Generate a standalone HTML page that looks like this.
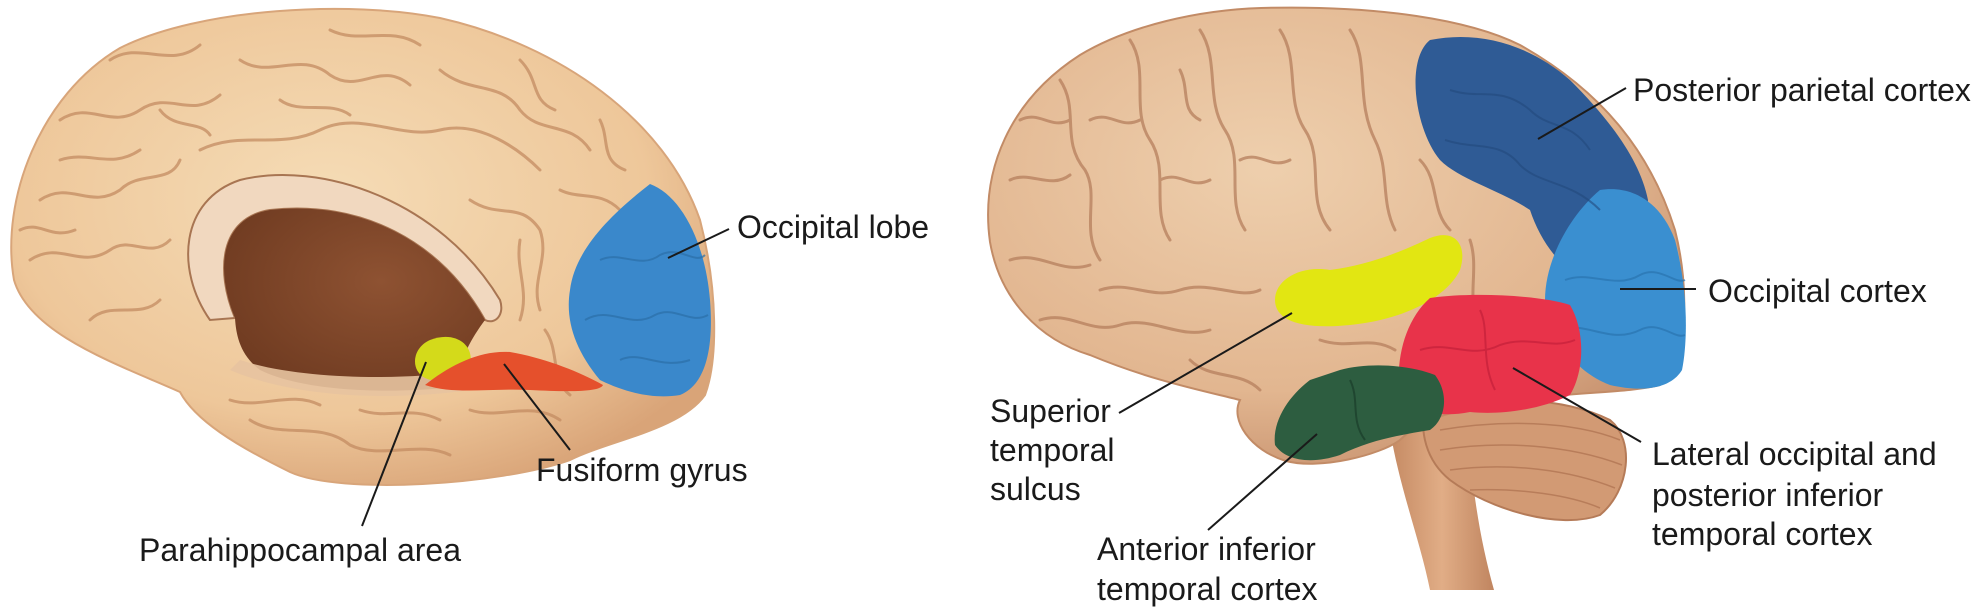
<!DOCTYPE html>
<html><head><meta charset="utf-8"><style>
html,body{margin:0;padding:0;background:#fff;}
svg{display:block}
text{font-family:"Liberation Sans",sans-serif;font-size:32px;fill:#1a1a1a;}
</style></head><body>
<svg width="1973" height="612" viewBox="0 0 1973 612" xmlns="http://www.w3.org/2000/svg">
<defs>
<radialGradient id="tan" cx="45%" cy="40%" r="65%">
<stop offset="0" stop-color="#f5dcb6"/><stop offset="0.7" stop-color="#eec79a"/><stop offset="1" stop-color="#d9a478"/>
</radialGradient>
<radialGradient id="tan2" cx="40%" cy="35%" r="70%">
<stop offset="0" stop-color="#eecfad"/><stop offset="0.7" stop-color="#e2b690"/><stop offset="1" stop-color="#c99471"/>
</radialGradient>
<radialGradient id="cav" cx="60%" cy="40%" r="70%">
<stop offset="0" stop-color="#8e5232"/><stop offset="1" stop-color="#6e3a20"/>
</radialGradient>
<linearGradient id="stem" x1="0" x2="1"><stop offset="0" stop-color="#c58a63"/><stop offset="0.5" stop-color="#e1ad86"/><stop offset="1" stop-color="#c08560"/></linearGradient>
</defs>

<!-- LEFT BRAIN -->
<path d="M180,392 C120,365 30,335 14,280 C0,200 40,95 120,48 C200,8 350,0 440,18 C560,45 665,120 700,220 C718,290 718,360 705,395 C680,430 610,440 570,460 C500,485 340,495 290,472 C235,445 195,420 180,392 Z" fill="url(#tan)" stroke="#d8a57a" stroke-width="2"/>
<g fill="none" stroke="#c48c62" stroke-width="3" stroke-linecap="round" opacity="0.75">
<path d="M60,120 C90,100 110,130 140,110 C170,90 190,120 220,95"/>
<path d="M240,60 C270,80 300,50 330,75 C360,95 380,60 410,85"/>
<path d="M440,70 C470,95 500,80 520,110 C540,135 570,120 590,150"/>
<path d="M40,200 C70,180 90,210 120,190 C140,170 170,185 180,160"/>
<path d="M200,150 C240,130 280,150 320,130 C360,110 400,140 440,130 C480,120 520,150 540,170"/>
<path d="M30,260 C60,240 80,270 110,250 C130,235 150,260 170,240"/>
<path d="M90,320 C110,300 140,320 160,300"/>
<path d="M470,200 C500,220 520,200 540,230 C550,260 530,280 540,310"/>
<path d="M110,60 C140,40 170,70 200,45"/>
<path d="M330,30 C360,45 390,25 420,45"/>
<path d="M60,160 C90,150 110,170 140,150"/>
<path d="M560,190 C580,200 600,190 620,210"/>
<path d="M250,420 C280,440 320,420 350,445 C380,460 420,440 450,455"/>
<path d="M230,400 C260,410 290,390 320,405"/>
<path d="M470,410 C500,420 530,400 560,420"/>
<path d="M160,110 C175,130 200,120 210,135"/>
<path d="M280,100 C300,115 330,100 350,115"/>
<path d="M520,60 C540,80 530,100 555,110"/>
<path d="M600,120 C610,140 600,160 625,170"/>
<path d="M20,230 C40,220 50,240 75,230"/>
<path d="M520,240 C515,270 530,290 520,320"/>
<path d="M545,330 C560,350 550,380 570,395"/>
<path d="M360,410 C390,420 410,405 440,420"/>
</g>
<!-- corpus callosum -->
<path d="M210,320 C175,270 180,200 240,180 C320,160 440,200 500,300 C505,315 495,325 485,320 C440,240 360,200 270,210 C220,218 215,270 235,318 Z" fill="#f1d8bf" stroke="#a87552" stroke-width="2"/>
<path d="M235,318 C215,270 220,218 270,210 C360,200 440,240 485,320 C470,340 460,360 454,387 C380,395 300,390 260,370 C240,355 236,335 235,318 Z" fill="url(#cav)"/>
<path d="M230,370 C300,400 400,400 470,390 C480,380 470,370 460,372 C400,380 300,380 240,360 Z" fill="#e7c3a0" opacity="0.9"/>
<!-- occipital blue -->
<path d="M650,184 C680,195 705,240 710,300 C714,350 705,385 680,395 C650,400 620,390 600,380 C575,350 565,320 570,290 C575,250 610,215 650,184 Z" fill="#3a88cb"/>
<g fill="none" stroke="#2b6fa8" stroke-width="2" opacity="0.7">
<path d="M600,260 C620,250 640,270 660,255 C680,245 695,265 705,255"/>
<path d="M585,320 C610,305 630,330 655,315 C675,305 690,325 708,315"/>
<path d="M620,360 C640,350 660,370 690,360"/>
</g>
<!-- yellow & orange -->
<path d="M430,340 C455,330 475,345 470,365 C462,380 440,385 425,378 C410,370 412,348 430,340 Z" fill="#d4da1a"/>
<path d="M425,385 C450,365 480,350 510,352 C545,358 580,372 603,385 C600,392 570,392 530,390 C490,388 455,395 425,385 Z" fill="#e5502c"/>

<!-- RIGHT BRAIN -->
<path d="M1390,430 C1400,490 1420,540 1430,590 L1494,590 C1480,540 1470,480 1470,430 Z" fill="url(#stem)"/>
<path d="M1425,410 C1480,395 1560,395 1610,420 C1635,440 1630,490 1600,515 C1560,530 1490,510 1450,480 C1425,460 1420,430 1425,410 Z" fill="#d29a74" stroke="#b57b58" stroke-width="2"/>
<g fill="none" stroke="#b27654" stroke-width="1.5" opacity="0.8">
<path d="M1440,430 C1500,420 1570,420 1620,440"/>
<path d="M1440,450 C1500,440 1570,445 1622,465"/>
<path d="M1450,470 C1510,462 1570,470 1615,488"/>
<path d="M1470,490 C1520,488 1570,495 1600,508"/>
</g>
<path d="M1261,8 C1380,5 1470,20 1520,45 C1600,90 1650,150 1675,230 C1690,290 1688,360 1660,385 C1620,395 1560,390 1500,405 C1450,410 1420,420 1400,440 C1380,455 1320,470 1286,461 C1250,450 1230,420 1240,400 C1200,390 1150,380 1090,355 C1040,340 1000,300 990,242 C980,170 1010,100 1080,55 C1130,25 1200,10 1261,8 Z" fill="url(#tan2)" stroke="#c28b66" stroke-width="2"/>
<g fill="none" stroke="#b67f5d" stroke-width="3" stroke-linecap="round" opacity="0.75">
<path d="M1060,80 C1080,110 1060,140 1085,170 C1100,195 1080,230 1100,260"/>
<path d="M1130,40 C1150,70 1130,110 1150,140 C1170,170 1150,210 1170,240"/>
<path d="M1200,30 C1220,60 1205,100 1225,130 C1245,160 1225,200 1245,230"/>
<path d="M1280,30 C1300,60 1285,100 1305,130 C1325,160 1305,200 1330,230"/>
<path d="M1350,30 C1370,60 1355,100 1375,140 C1390,170 1380,200 1395,230"/>
<path d="M1010,180 C1030,170 1050,190 1070,175"/>
<path d="M1010,260 C1040,250 1060,275 1090,265"/>
<path d="M1040,320 C1070,310 1090,335 1120,325 C1150,315 1180,340 1210,330"/>
<path d="M1100,290 C1130,280 1150,300 1180,290 C1210,280 1240,300 1260,290"/>
<path d="M1190,360 C1210,380 1240,370 1260,390"/>
<path d="M1320,340 C1350,350 1370,335 1395,350"/>
<path d="M1470,240 C1480,270 1465,300 1480,330 C1490,350 1480,370 1495,385"/>
<path d="M1420,160 C1440,180 1430,210 1450,230"/>
<path d="M1090,120 C1110,110 1120,130 1140,120"/>
<path d="M1160,180 C1180,170 1190,190 1210,180"/>
<path d="M1240,160 C1260,150 1270,170 1290,160"/>
<path d="M1020,120 C1040,110 1050,130 1070,120"/>
<path d="M1180,70 C1190,90 1180,110 1200,120"/>
</g>
<!-- dark blue parietal -->
<path d="M1430,40 C1480,30 1530,45 1570,80 C1610,120 1640,160 1648,200 C1645,240 1615,270 1590,282 C1560,270 1540,240 1530,210 C1500,190 1460,180 1440,160 C1415,130 1405,60 1430,40 Z" fill="#2f5b95"/>
<path d="M1600,190 C1630,185 1660,200 1675,240 C1688,290 1688,340 1682,370 C1670,390 1640,392 1610,385 C1570,370 1548,330 1545,300 C1545,260 1570,215 1600,190 Z" fill="#3a8fd0"/>
<g fill="none" stroke="#234a7d" stroke-width="2" opacity="0.6">
<path d="M1450,90 C1480,100 1500,85 1530,110 C1550,130 1570,120 1590,150"/>
<path d="M1445,140 C1475,150 1500,140 1520,165 C1540,185 1570,180 1600,210"/>
</g>
<g fill="none" stroke="#2a74b0" stroke-width="2" opacity="0.7">
<path d="M1565,280 C1590,270 1615,290 1640,275 C1660,265 1675,285 1685,280"/>
<path d="M1560,330 C1585,320 1610,345 1640,330 C1660,320 1675,340 1685,335"/>
</g>
<path d="M1430,238 C1455,228 1468,245 1460,270 C1445,300 1400,320 1350,325 C1300,330 1275,320 1275,300 C1275,280 1300,265 1330,270 C1370,265 1405,250 1430,238 Z" fill="#e2e612"/>
<path d="M1430,298 C1470,292 1540,295 1570,305 C1585,330 1585,370 1570,395 C1540,410 1500,415 1470,412 C1440,418 1410,412 1400,395 C1395,360 1405,320 1430,298 Z" fill="#e8334a"/>
<g fill="none" stroke="#c4203a" stroke-width="2" opacity="0.7">
<path d="M1420,350 C1450,340 1470,360 1500,345 C1530,335 1550,350 1575,340"/>
<path d="M1480,310 C1490,330 1480,360 1495,390"/>
</g>
<path d="M1340,370 C1370,362 1410,365 1435,375 C1450,395 1445,420 1430,430 C1400,435 1370,440 1340,455 C1310,465 1285,460 1275,445 C1272,420 1290,395 1310,380 Z" fill="#2d5d40"/>
<path d="M1350,380 C1360,400 1350,420 1365,440" fill="none" stroke="#1f4630" stroke-width="2"/>

<g stroke="#1a1a1a" stroke-width="2" fill="none">
<line x1="729" y1="229" x2="668" y2="258"/>
<line x1="570" y1="450" x2="504" y2="364"/>
<line x1="362" y1="526" x2="426" y2="362"/>
<line x1="1626" y1="88" x2="1538" y2="139"/>
<line x1="1696" y1="289" x2="1620" y2="289"/>
<line x1="1119" y1="413" x2="1292" y2="313"/>
<line x1="1208" y1="530" x2="1317" y2="434"/>
<line x1="1641" y1="442" x2="1513" y2="368"/>
</g>

<text x="737" y="238">Occipital lobe</text>
<text x="536" y="481">Fusiform gyrus</text>
<text x="139" y="561">Parahippocampal area</text>
<text x="1633" y="101">Posterior parietal cortex</text>
<text x="1708" y="302">Occipital cortex</text>
<text x="990" y="422">Superior</text>
<text x="990" y="461">temporal</text>
<text x="990" y="500">sulcus</text>
<text x="1097" y="560">Anterior inferior</text>
<text x="1097" y="600">temporal cortex</text>
<text x="1652" y="465">Lateral occipital and</text>
<text x="1652" y="506">posterior inferior</text>
<text x="1652" y="545">temporal cortex</text>
</svg>
</body></html>
